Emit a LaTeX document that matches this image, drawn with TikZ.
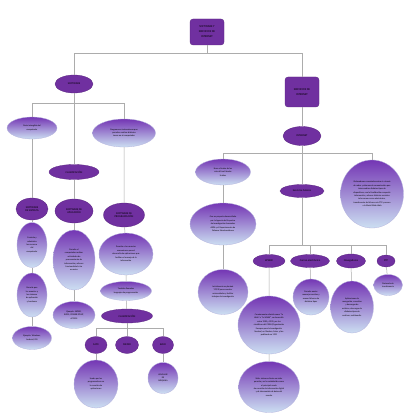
\documentclass[tikz,border=0pt]{standalone}
\usepackage{fontspec}
\setmainfont{Carlito}
\usetikzlibrary{shapes.geometric}
\definecolor{morado}{HTML}{7030A0}
\definecolor{lila}{HTML}{7436B4}
\definecolor{celeste}{HTML}{CCDFF2}
\begin{document}
\begin{tikzpicture}[x=1pt,y=-1pt,
  osc/.style 2 args={ellipse,fill=morado,draw=morado!80!black,line width=.3pt,inner sep=0pt,
    minimum width=#1,minimum height=#2,align=center,font=\fontsize{2.7}{3.6}\selectfont},
  deg/.style 2 args={ellipse,top color=lila,bottom color=celeste,draw=celeste!75!morado,line width=.3pt,
    inner sep=0pt,minimum width=#1,minimum height=#2,align=center,font=\fontsize{2.2}{3.4}\selectfont},
  caja/.style 2 args={rectangle,rounded corners=3pt,fill=morado,draw=morado!80!black,line width=.3pt,
    inner sep=0pt,minimum width=#1,minimum height=#2,align=center,font=\fontsize{2.9}{5}\selectfont},
  con/.style={gray!65,line width=.5pt}]
\fill[white] (0,0) rectangle (414,414);
\useasboundingbox (0,0) rectangle (414,414);
% raiz
\node[caja={34}{26}] (raiz) at (207,32) {SOFTWARE Y\\SERVICIOS DE\\INTERNET};
% software
\node[osc={38}{18}] (soft) at (74,84) {SOFTWARE};
\node[deg={50}{22}] (parte) at (32,128) {Parte intangible del\\computador};
\node[deg={63}{28}] (prog) at (124,133) {Programas e instrucciones que\\permiten realizar distintas\\tareas en el computador};
\node[osc={50}{15}] (clas1) at (74,172) {CLASIFICACIÓN};
\node[osc={32}{22}] (sist) at (32,209) {SOFTWARE\\DE SISTEMA};
\node[osc={38}{24}] (apl) at (74,211) {SOFTWARE DE\\APLICACIÓN};
\node[osc={41}{24}] (prg) at (124,215) {SOFTWARE DE\\PROGRAMACIÓN};
\node[deg={30}{45}] (sistA) at (32,245) {Controla y\\administra\\los recursos\\del\\computador};
\node[deg={30}{44}] (sistB) at (32,295) {Permite que\\los usuarios y\\los sistemas\\de aplicación\\y hardware};
\node[deg={39}{23}] (sistC) at (32,338) {Ejemplo: Windows,\\Android, IOS};
\node[deg={42}{60}] (aplA) at (74,260) {Permite al\\computador realizar\\actividades de\\procesamiento de\\información y ofrecer\\funcionalidad a los\\usuarios};
\node[deg={42}{27}] (aplB) at (74,315) {Ejemplo: WORD,\\EXCEL, POWER POINT,\\ACCESS};
\node[deg={54}{42}] (prgA) at (126,254) {Permite a los usuarios\\comunicarse para el\\desarrollo de aplicaciones que\\facilitan el manejo de la\\información};
\node[deg={51}{19}] (prgB) at (126,291) {También llamados\\lenguajes de programación};
\node[osc={51}{14}] (clas2) at (127,316) {CLASIFICACIÓN};
\node[osc={22}{17}] (alto) at (96,345) {ALTO};
\node[osc={23}{17}] (medio) at (127,345) {MEDIO};
\node[osc={21}{17}] (bajo) at (163,345) {BAJO};
\node[deg={44}{48}] (altoA) at (96,384) {Usado por los\\programadores en\\la creación de\\aplicaciones};
\node[deg={30}{31}] (bajoA) at (163,378) {LENGUAJE\\DE\\MÁQUINA};
% servicios
\node[caja={34}{30}] (serv) at (302,92) {SERVICIOS DE\\INTERNET};
\node[osc={38}{19}] (inet) at (302,136) {INTERNET};
\node[deg={55}{26}] (nace) at (223,172) {Nace a finales de los\\años 60 en Estados\\Unidos};
\node[deg={66}{42}] (proy) at (223,224) {Con un proyecto desarrollado\\por la Agencia de Proyectos\\de Investigación Avanzados\\ARPA y el Departamento de\\Defensa Estadounidense};
\node[deg={50}{45}] (tcp) at (223,292) {Inicialmente se planteó\\TCP/IP para conectar\\universidades y facilitar\\trabajos de investigación};
\node[osc={44}{13}] (sbas) at (302,191) {Servicios básicos};
\node[deg={63}{68}] (redes) at (372,194) {Ordenadores conectados entre sí a través\\de redes y sistemas de comunicación que\\intercambian distintos tipos de\\dispositivos, con la finalidad de compartir\\información y ofrecer distintos servicios\\tales como correo electrónico,\\transferencia de ficheros vía FTP y acceso\\a la World Wide Web};
\node[osc={32}{13}] (www) at (269,261) {W.W.W};
\node[osc={39}{13}] (correo) at (310,261) {Correo electrónico};
\node[osc={29}{14}] (nav) at (351,261) {Navegadores};
\node[osc={18}{12}] (ftp) at (386,261) {FTP};
\node[deg={62}{58}] (wwwA) at (269,325) {Comúnmente referida como ``la\\Web'' o ``la WWW'', se desarrolló\\entre 1989 y 1990, por los\\científicos del CERN (Organización\\Europea para la Investigación\\Nuclear) en Ginebra, Suiza, y fue\\publicada en 1991};
\node[deg={61}{51}] (wwwB) at (269,387) {Web: sistema cliente-servidor\\permite y se ha establecido como\\el principal modo\\de consulta de información digital\\y de intercambio de datos del\\mundo};
\node[deg={36}{36}] (correoA) at (311,297) {Permite enviar\\mensajes escritos y\\anexar ficheros de\\distintos tipos};
\node[deg={43}{52}] (navA) at (352,307) {Aplicaciones de\\navegación, consultas\\y descargas de\\archivos, descargas de\\distintos tipos de\\archivos, multimedia.};
\node[deg={29}{21}] (ftpA) at (388,285) {Protocolo de\\transferencia};
% conectores
\coordinate (b0) at (207,53);
\coordinate (b1) at (74,103);
\coordinate (b2) at (127,328);
\coordinate (b3) at (302,153);
\coordinate (b4) at (302,245);
\draw[con] (raiz) -- (b0) (b0) -| (soft) (b0) -| (serv);
\draw[con] (soft) -- (clas1) (b1) -| (parte) (b1) -| (prog);
\draw[con] (parte) -- (sist) (sist) -- (sistA) (sistA) -- (sistB) (sistB) -- (sistC);
\draw[con] (clas1) -- (apl) (apl) -- (aplA) (aplA) -- (aplB);
\draw[con] (prog) -- (prg) (prg) -- (prgA) (prgA) -- (prgB) (prgB) -- (clas2);
\draw[con] (clas2) -- (medio) (b2) -| (alto) (b2) -| (bajo);
\draw[con] (alto) -- (altoA) (bajo) -- (bajoA);
\draw[con] (serv) -- (inet) (inet) -- (sbas) (b3) -| (nace) (b3) -| (redes);
\draw[con] (nace) -- (proy) (proy) -- (tcp);
\draw[con] (sbas) -- (b4) (b4) -| (www) (b4) -| (ftp) (correo |- b4) -- (correo) (nav |- b4) -- (nav);
\draw[con] (www) -- (wwwA) (wwwA) -- (wwwB) (correo) -- (correoA) (nav) -- (navA) (ftp) -- (ftpA);
\end{tikzpicture}
\end{document}
